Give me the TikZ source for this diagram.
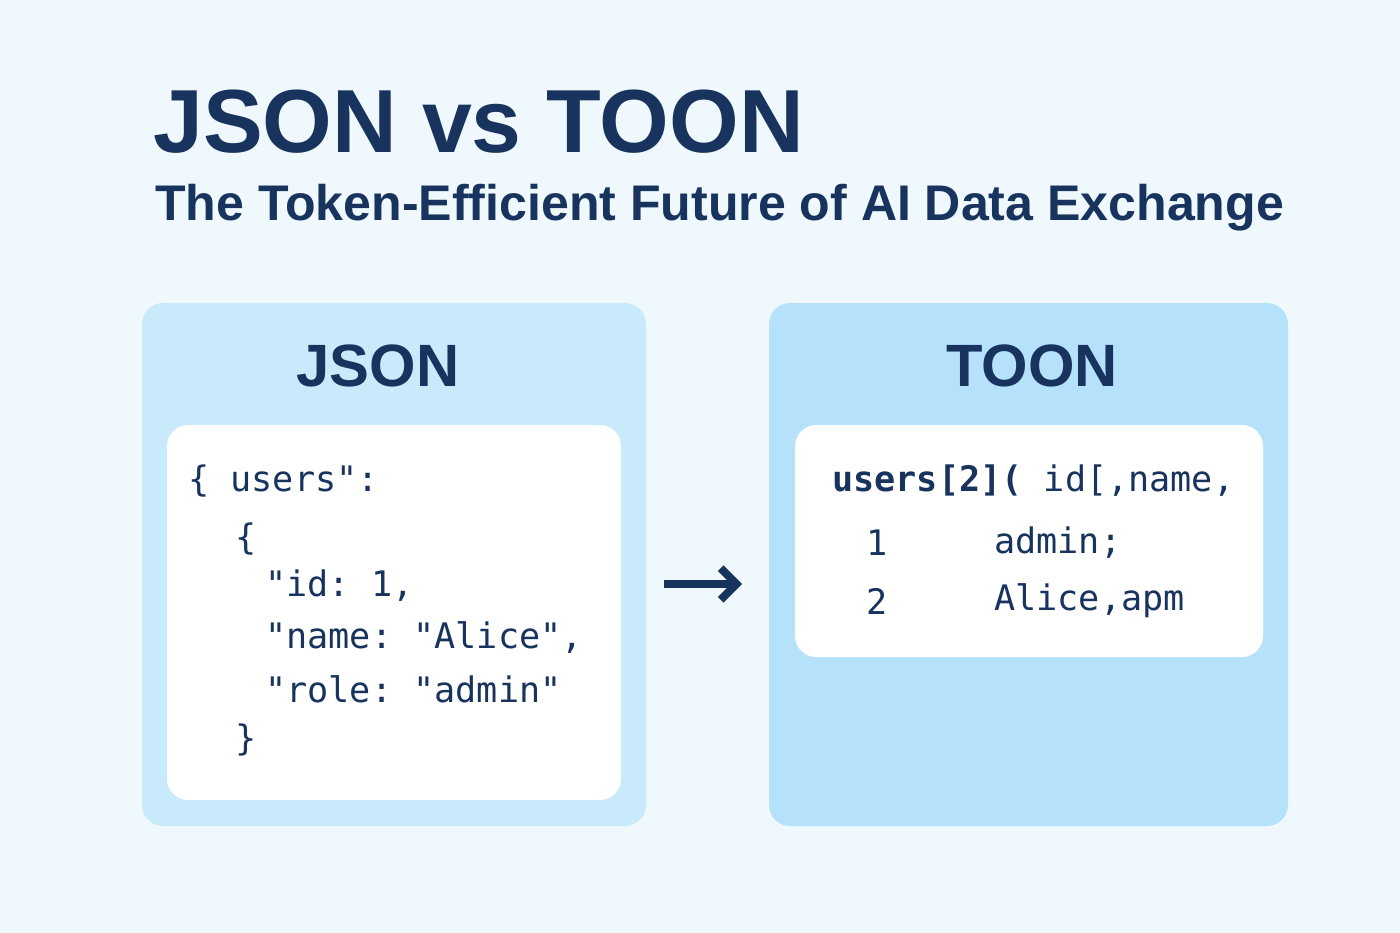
\documentclass[tikz,border=0pt]{standalone}
\usepackage{fontspec}
\setmainfont{Liberation Sans}
\setmonofont{DejaVu Sans Mono}
\usepackage{tikz}
\usetikzlibrary{positioning, calc, arrows.meta}
\definecolor{bgblue}{HTML}{EEF8FD}
\definecolor{navy}{HTML}{17335E}
\definecolor{paneljson}{HTML}{C9EAFB}
\definecolor{paneltoon}{HTML}{B5E2FA}
\tikzstyle{cmp.panel} = [rounded corners=12pt, draw=none]
\tikzstyle{cmp.card} = [rounded corners=12pt, fill=white, draw=none]
\tikzstyle{cmp.head} = [text=navy, font=\fontsize{34}{40}\selectfont\bfseries]
\tikzstyle{cmp.code} = [anchor=west, text=navy, inner sep=0pt, font=\fontsize{20}{24}\selectfont\ttfamily]
\tikzstyle{cmp.flow} = [-{Straight Barb[length=9pt,width=18pt]}, line width=4.5pt, navy]

\begin{document}
\begin{tikzpicture}[x=0.02cm, y=-0.02cm]
\fill[bgblue] (0,0) rectangle (1400,933);
\useasboundingbox (0,0) rectangle (1400,933);
% titles
\node[anchor=west, text=navy, inner sep=0pt, font=\fontsize{51}{56}\selectfont\bfseries] (title) at (153,122) {JSON vs TOON};
\node[anchor=west, text=navy, inner sep=0pt, font=\fontsize{28.5}{32}\selectfont\bfseries] (subtitle) at (155,208) {The Token-Efficient Future of AI Data Exchange};

% panels
\fill[cmp.panel, fill=paneljson] (142,303) rectangle (646,826);
\fill[cmp.card] (167,425) rectangle (621,800);
\fill[cmp.panel, fill=paneltoon] (769,303) rectangle (1288,826);
\fill[cmp.card] (795,425) rectangle (1263,657);
\node[cmp.head] (jsonhead) at (378,366) {JSON};
\node[cmp.head] (toonhead) at (1032,366) {TOON};

% JSON code
\node[cmp.code] (j1) at (188,481) {\{ users":};
\node[cmp.code] (j2) at (235,539) {\{};
\node[cmp.code] (j3) at (265,586) {"id: 1,};
\node[cmp.code] (j4) at (265,638) {"name: "Alice",};
\node[cmp.code] (j5) at (265,689) {"role: "admin"};
\node[cmp.code] (j6) at (235,740) {\}};

% TOON code
\node[cmp.code] (t1) at (832,481) {\textbf{users[2](} id[,name,};
\node[cmp.code] (t2) at (866,543) {1};
\node[cmp.code] (t3) at (994,543) {admin;};
\node[cmp.code] (t4) at (866,601) {2};
\node[cmp.code] (t5) at (994,601) {Alice,apm};

% arrow
\coordinate (from) at (664,584);
\coordinate (to) at (742,584);
\draw[cmp.flow] (from) -- (to);
\end{tikzpicture}
\end{document}
